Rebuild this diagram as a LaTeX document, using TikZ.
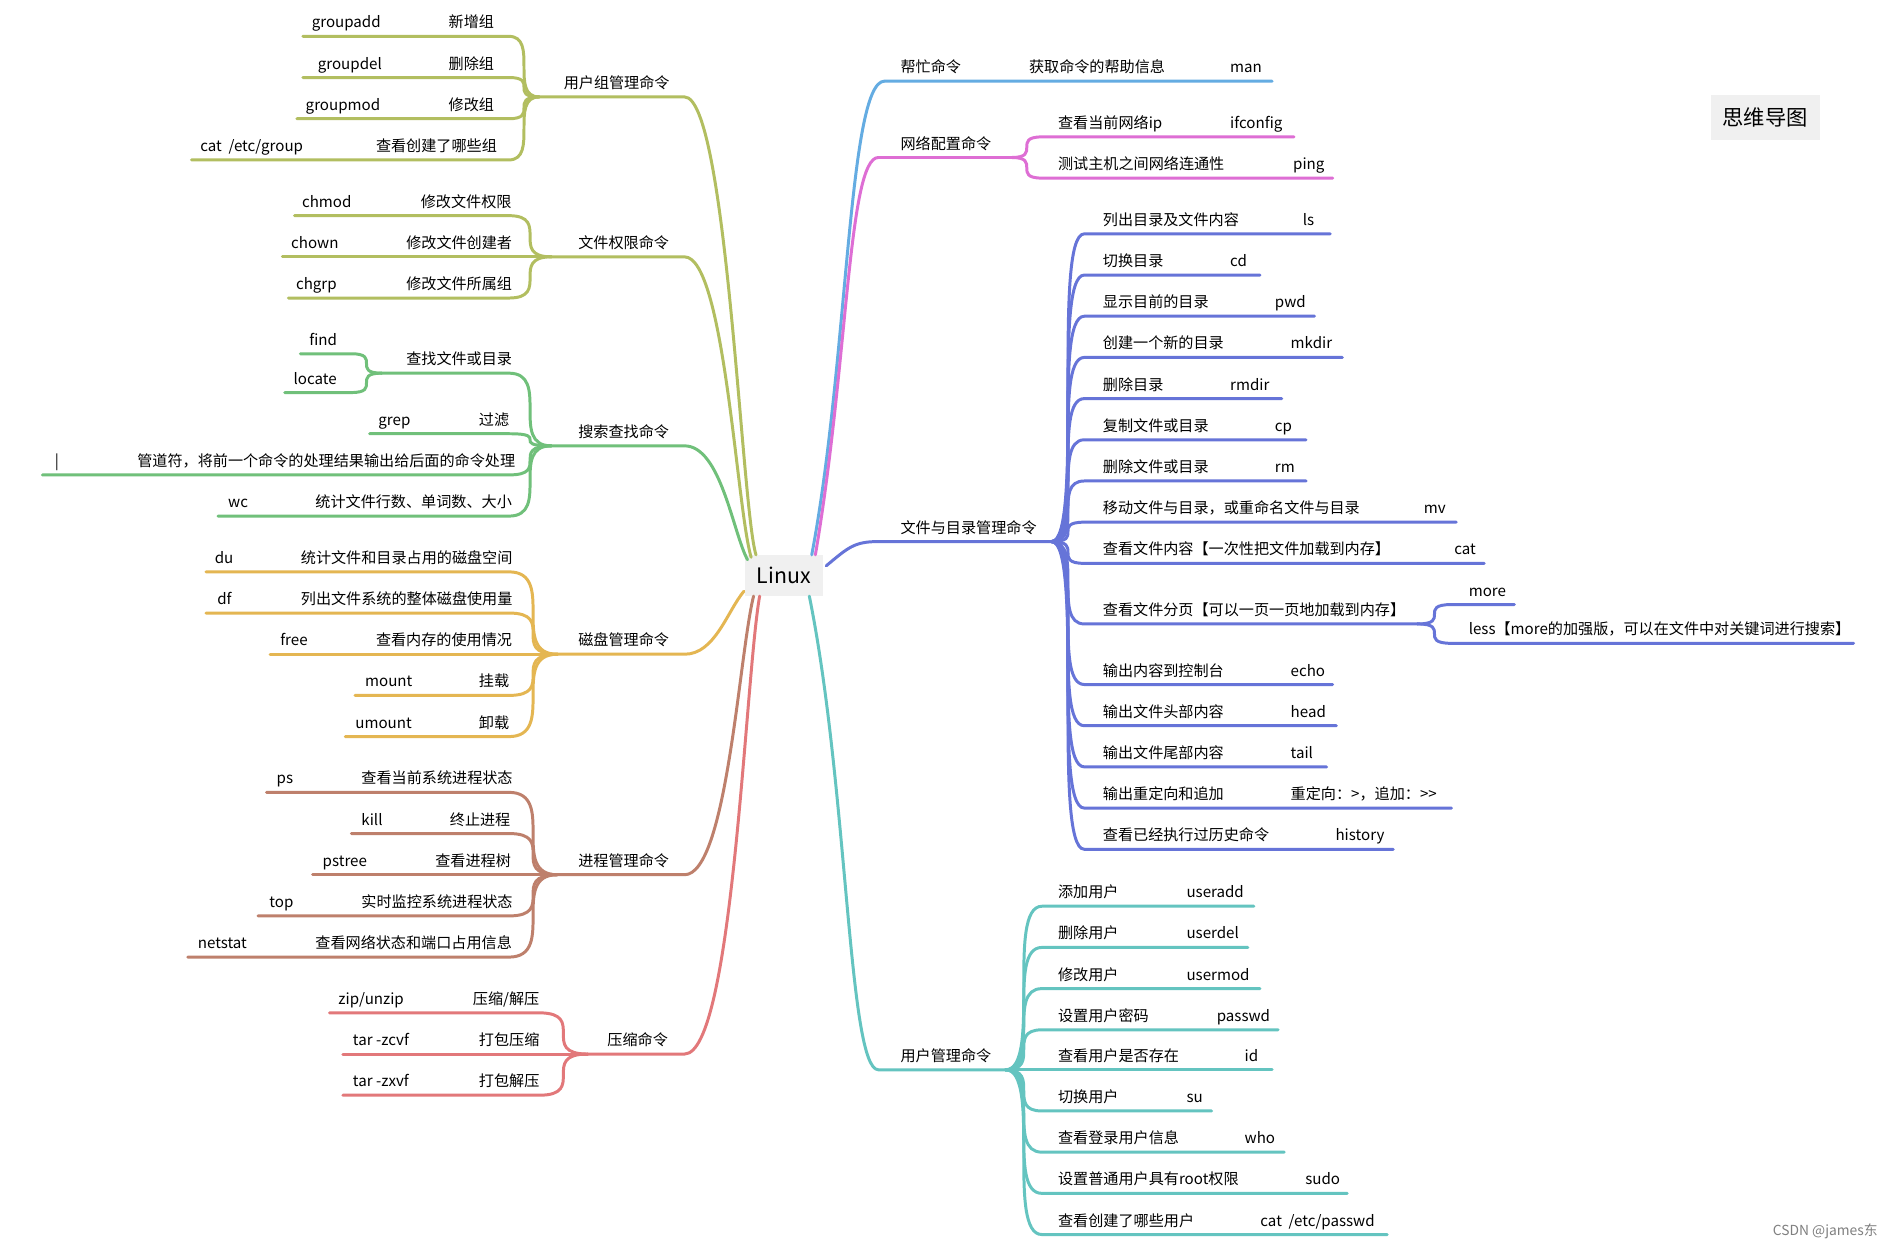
\documentclass[tikz,border=0pt]{standalone}
\usepackage{fontspec}
\setmainfont{Noto Sans CJK SC}
\definecolor{cgrp}{RGB}{178,190,96}
\definecolor{csrch}{RGB}{112,192,122}
\definecolor{cdisk}{RGB}{228,182,82}
\definecolor{cproc}{RGB}{190,128,108}
\definecolor{czip}{RGB}{226,120,122}
\definecolor{chelp}{RGB}{100,172,226}
\definecolor{cnet}{RGB}{222,110,212}
\definecolor{cfile}{RGB}{102,116,216}
\definecolor{cuser}{RGB}{100,196,192}
\tikzset{
  br/.style={draw=#1, line width=1.4pt, line cap=round},
  txt/.style={anchor=base west, inner sep=0pt, font=\fontsize{7.1}{9}\selectfont},
}
% 左侧叶子: y, 线起点, 文字1 x, 文字1, 文字2 x, 文字2
\newcommand\leafl[6]{%
  \node[txt] at ({#3},{#1-7}) {#4};
  \node[txt] at ({#5},{#1-7}) {#6};
  \draw[br=\gc] (#2,#1) -- (\ge,#1) .. controls (\gx,#1) and (\ge,\gy) .. (\gx,\gy);}
% 右侧叶子: y, 文字1, 文字2 x, 文字2, 线终点
\newcommand\leafr[5]{%
  \node[txt] at ({\gt},{#1-7}) {#2};
  \node[txt] at ({#3},{#1-7}) {#4};
  \draw[br=\gc] (\gx,\gy) .. controls (\gs,\gy) and (\gx,#1) .. (\gs,#1) -- (#5,#1);}
\begin{document}
\begin{tikzpicture}[x=0.02cm, y=-0.02cm]
\fill[white] (0,0) rectangle (1560,1024);
\useasboundingbox (0,0) rectangle (1560,1024);
% 中心
\node[fill=gray!12, minimum width=1.3cm, minimum height=0.68cm, font=\fontsize{10}{12}\selectfont] (linux) at (647,475) {Linux};
\node[fill=gray!12, minimum width=1.8cm, minimum height=0.74cm, font=\fontsize{10}{12}\selectfont] (mind) at (1457,97) {思维导图};
\node[anchor=base east, text=gray, font=\fontsize{6.5}{8}\selectfont] (csdn) at (1556,1020) {CSDN @james东};
% 用户组管理命令
\def\gc{cgrp}\def\gx{445}\def\gy{80}\def\ge{420}
\node[txt] (grp) at (465,73) {用户组管理命令};
\draw[br=cgrp] (445,80) -- (565,80) .. controls (600,80) and (612,420) .. (624,458);
\leafl{30}{250}{257}{groupadd}{370}{新增组}
\leafl{64}{250}{262}{groupdel}{370}{删除组}
\leafl{98}{245}{252}{groupmod}{370}{修改组}
\leafl{132}{158}{165}{cat\ \ /etc/group}{310}{查看创建了哪些组}
% 文件权限命令
\def\gx{455}\def\gy{212}
\node[txt] (perm) at (477,205) {文件权限命令};
\draw[br=cgrp] (455,212) -- (565,212) .. controls (598,212) and (608,420) .. (620,460);
\leafl{178}{243}{249}{chmod}{347}{修改文件权限}
\leafl{212}{233}{240}{chown}{335}{修改文件创建者}
\leafl{246}{238}{244}{chgrp}{335}{修改文件所属组}
% 搜索查找命令
\def\gc{csrch}\def\gy{368}
\node[txt] (srch) at (477,361) {搜索查找命令};
\draw[br=csrch] (455,368) -- (565,368) .. controls (595,368) and (605,440) .. (617,462);
\leafl{358}{305}{312}{grep}{395}{过滤}
\leafl{392}{35}{45}{|}{113}{管道符，将前一个命令的处理结果输出给后面的命令处理}
\leafl{426}{180}{188}{wc}{260}{统计文件行数、单词数、大小}
\node[txt] (findd) at (335,301) {查找文件或目录};
\draw[br=csrch] (315,308) -- (420,308) .. controls (455,308) and (420,368) .. (455,368);
\def\gx{315}\def\gy{308}\def\ge{290}
\leafl{292}{248}{255}{find}{255}{}
\leafl{324}{235}{242}{locate}{242}{}
% 磁盘管理命令
\def\gc{cdisk}\def\gx{460}\def\gy{540}\def\ge{420}
\node[txt] (disk) at (477,533) {磁盘管理命令};
\draw[br=cdisk] (460,540) -- (565,540) .. controls (590,540) and (600,505) .. (614,488);
\leafl{472}{170}{177}{du}{248}{统计文件和目录占用的磁盘空间}
\leafl{506}{170}{179}{df}{248}{列出文件系统的整体磁盘使用量}
\leafl{540}{223}{231}{free}{310}{查看内存的使用情况}
\leafl{574}{293}{301}{mount}{395}{挂载}
\leafl{608}{285}{293}{umount}{395}{卸载}
% 进程管理命令
\def\gc{cproc}\def\gy{722}
\node[txt] (proc) at (477,715) {进程管理命令};
\draw[br=cproc] (460,722) -- (565,722) .. controls (600,722) and (610,540) .. (622,492);
\leafl{654}{220}{228}{ps}{298}{查看当前系统进程状态}
\leafl{688}{290}{298}{kill}{371}{终止进程}
\leafl{722}{258}{266}{pstree}{359}{查看进程树}
\leafl{756}{213}{222}{top}{298}{实时监控系统进程状态}
\leafl{790}{155}{163}{netstat}{260}{查看网络状态和端口占用信息}
% 压缩命令
\def\gc{czip}\def\gx{485}\def\gy{870}\def\ge{445}
\node[txt] (zip) at (501,863) {压缩命令};
\draw[br=czip] (485,870) -- (565,870) .. controls (605,870) and (615,560) .. (627,492);
\leafl{836}{272}{279}{zip/unzip}{390}{压缩/解压}
\leafl{870}{283}{291}{tar -zcvf}{395}{打包压缩}
\leafl{904}{283}{291}{tar -zxvf}{395}{打包解压}
% 帮忙命令
\node[txt] (help) at (743,60) {帮忙命令};
\draw[br=chelp] (670,458) .. controls (700,300) and (700,67) .. (730,67) -- (1050,67);
\node[txt] at (849,60) {获取命令的帮助信息};
\node[txt] at (1015,60) {man};
% 网络配置命令
\def\gc{cnet}\def\gx{835}\def\gy{130}\def\gs{860}\def\gt{873}
\node[txt] (net) at (743,123) {网络配置命令};
\draw[br=cnet] (673,458) .. controls (700,300) and (700,130) .. (725,130) -- (835,130);
\leafr{113}{查看当前网络ip}{1015}{ifconfig}{1068}
\leafr{147}{测试主机之间网络连通性}{1067}{ping}{1100}
% 文件与目录管理命令
\def\gc{cfile}\def\gx{868}\def\gy{447}\def\gs{895}\def\gt{910}
\node[txt] (file) at (743,440) {文件与目录管理命令};
\draw[br=cfile] (682,467) .. controls (700,452) and (705,447) .. (725,447) -- (868,447);
\leafr{193}{列出目录及文件内容}{1075}{ls}{1098}
\leafr{227}{切换目录}{1015}{cd}{1040}
\leafr{261}{显示目前的目录}{1052}{pwd}{1085}
\leafr{295}{创建一个新的目录}{1065}{mkdir}{1108}
\leafr{329}{删除目录}{1015}{rmdir}{1058}
\leafr{363}{复制文件或目录}{1052}{cp}{1078}
\leafr{397}{删除文件或目录}{1052}{rm}{1078}
\leafr{431}{移动文件与目录，或重命名文件与目录}{1175}{mv}{1202}
\leafr{465}{查看文件内容【一次性把文件加载到内存】}{1200}{cat}{1225}
\leafr{515}{查看文件分页【可以一页一页地加载到内存】}{1212}{}{1170}
\leafr{565}{输出内容到控制台}{1065}{echo}{1100}
\leafr{599}{输出文件头部内容}{1065}{head}{1103}
\leafr{633}{输出文件尾部内容}{1065}{tail}{1095}
\leafr{667}{输出重定向和追加}{1065}{重定向：>，追加：>{}>}{1198}
\leafr{701}{查看已经执行过历史命令}{1102}{history}{1150}
\def\gx{1170}\def\gy{515}\def\gs{1198}\def\gt{1212}
\leafr{499}{more}{1212}{}{1250}
\leafr{531}{less【more的加强版，可以在文件中对关键词进行搜索】}{1212}{}{1530}
% 用户管理命令
\def\gc{cuser}\def\gx{830}\def\gy{883}\def\gs{860}\def\gt{873}
\node[txt] (user) at (743,876) {用户管理命令};
\draw[br=cuser] (668,492) .. controls (700,650) and (700,883) .. (725,883) -- (830,883);
\leafr{748}{添加用户}{979}{useradd}{1035}
\leafr{782}{删除用户}{979}{userdel}{1030}
\leafr{816}{修改用户}{979}{usermod}{1040}
\leafr{850}{设置用户密码}{1004}{passwd}{1055}
\leafr{883}{查看用户是否存在}{1027}{id}{1050}
\leafr{917}{切换用户}{979}{su}{1000}
\leafr{951}{查看登录用户信息}{1027}{who}{1060}
\leafr{985}{设置普通用户具有root权限}{1077}{sudo}{1112}
\leafr{1019}{查看创建了哪些用户}{1040}{cat\ \ /etc/passwd}{1145}
\end{tikzpicture}
\end{document}
